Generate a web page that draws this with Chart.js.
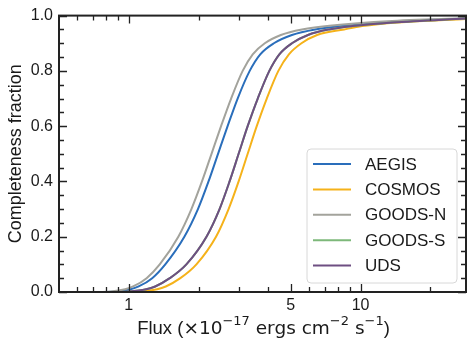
<!DOCTYPE html>
<html>
<head>
<meta charset="utf-8">
<script src="https://cdn.jsdelivr.net/npm/chart.js@4"></script>
<style>
  html, body { margin: 0; padding: 0; background: #fff; }
  #wrap { width: 474px; height: 347px; }
</style>
</head>
<body>
<div id="wrap"><canvas id="completenessChart"></canvas></div>
<script>
// series (flux in 1e-17 ergs cm^-2 s^-1, completeness fraction)
const seriesNames = ['AEGIS', 'COSMOS', 'GOODS-N', 'GOODS-S', 'UDS'];
const seriesColors = ['#2a6ebb', '#f5b21a', '#a3a39c', '#7db87a', '#6e4f82'];

const aegisFlux = [0.72, 0.881, 1.018, 1.103, 1.262, 1.437, 1.737, 1.988, 2.208, 2.427, 2.669, 2.949, 3.324, 3.692, 4.225, 5.056, 6.364, 8.33, 15.16, 29.0];
const aegisFrac = [0.000, 0.002, 0.010, 0.020, 0.050, 0.100, 0.200, 0.300, 0.400, 0.500, 0.600, 0.700, 0.800, 0.860, 0.900, 0.930, 0.950, 0.962, 0.980, 0.990];

const cosmosFlux = [0.85, 1.108, 1.326, 1.444, 1.669, 1.958, 2.379, 2.695, 2.978, 3.258, 3.565, 3.939, 4.419, 4.907, 5.559, 6.491, 8.497, 10.17, 14.42, 29.0];
const cosmosFrac = [0.000, 0.002, 0.010, 0.020, 0.050, 0.100, 0.200, 0.300, 0.400, 0.500, 0.600, 0.700, 0.800, 0.860, 0.900, 0.930, 0.950, 0.962, 0.975, 0.988];

const goodsNFlux = [0.70, 0.838, 0.964, 1.044, 1.194, 1.360, 1.636, 1.863, 2.069, 2.275, 2.501, 2.764, 3.100, 3.425, 3.862, 4.530, 5.587, 7.925, 13.06, 29.0];
const goodsNFrac = [0.000, 0.002, 0.010, 0.020, 0.050, 0.100, 0.200, 0.300, 0.400, 0.500, 0.600, 0.700, 0.800, 0.860, 0.900, 0.930, 0.950, 0.966, 0.980, 0.991];

// GOODS-S is not visible in the reference: it sits underneath UDS
const goodsSFlux = [0.80, 1.003, 1.189, 1.300, 1.503, 1.772, 2.164, 2.464, 2.722, 2.978, 3.258, 3.601, 4.040, 4.463, 5.056, 5.932, 7.315, 9.205, 13.73, 29.0];
const goodsSFrac = [0.000, 0.002, 0.010, 0.020, 0.050, 0.100, 0.200, 0.300, 0.400, 0.500, 0.600, 0.700, 0.800, 0.860, 0.900, 0.930, 0.950, 0.962, 0.975, 0.990];

const udsFlux = [0.80, 1.003, 1.189, 1.300, 1.503, 1.772, 2.164, 2.464, 2.722, 2.978, 3.258, 3.601, 4.040, 4.463, 5.056, 5.932, 7.315, 9.205, 13.73, 29.0];
const udsFrac = [0.000, 0.002, 0.010, 0.020, 0.050, 0.100, 0.200, 0.300, 0.400, 0.500, 0.600, 0.700, 0.800, 0.860, 0.900, 0.930, 0.950, 0.962, 0.975, 0.990];

const xTickLabels = [1, 5, 10];
const xMinorTicks = [0.6, 0.7, 0.8, 0.9, 2, 3, 4, 6, 7, 8, 9, 20];
const yTickLabels = [0, 0.2, 0.4, 0.6, 0.8, 1.0];
const yMinorTicks = [0.05, 0.1, 0.15, 0.25, 0.3, 0.35, 0.45, 0.5, 0.55, 0.65, 0.7, 0.75, 0.85, 0.9, 0.95];

const fluxes = [aegisFlux, cosmosFlux, goodsNFlux, goodsSFlux, udsFlux];
const fracs = [aegisFrac, cosmosFrac, goodsNFrac, goodsSFrac, udsFrac];

const FONT = '"Liberation Sans", Arial, sans-serif';
const MATH = '"DejaVu Sans", sans-serif';

const datasets = seriesNames.map((name, i) => ({
    label: name,
    data: fluxes[i].map((x, j) => ({ x: x, y: fracs[i][j] })),
    borderColor: seriesColors[i],
    backgroundColor: seriesColors[i],
    borderWidth: 2,
    pointRadius: 0,
    cubicInterpolationMode: 'monotone',
    order: seriesNames.length - 1 - i   // later series on top, like matplotlib
}));

// frame, inward ticks, titles and the legend box
const decorPlugin = {
    id: 'decor',
    afterDraw(chart) {
        const ctx = chart.ctx;
        const area = chart.chartArea;
        const xs = chart.scales.x;
        const ys = chart.scales.y;
        ctx.save();
        ctx.strokeStyle = '#222';

        ctx.lineWidth = 1.3;
        const tick = (vals, len, isX) => {
            vals.forEach(v => {
                ctx.beginPath();
                if (isX) {
                    const px = Math.round(xs.getPixelForValue(v)) + 0.5;
                    ctx.moveTo(px, area.bottom); ctx.lineTo(px, area.bottom - len);
                    ctx.moveTo(px, area.top); ctx.lineTo(px, area.top + len);
                } else {
                    const py = Math.round(ys.getPixelForValue(v)) + 0.5;
                    ctx.moveTo(area.left, py); ctx.lineTo(area.left + len, py);
                    ctx.moveTo(area.right, py); ctx.lineTo(area.right - len, py);
                }
                ctx.stroke();
            });
        };
        tick(xTickLabels, 8, true);
        tick(xMinorTicks, 5, true);
        tick(yTickLabels, 8, false);
        tick(yMinorTicks, 5, false);

        ctx.lineWidth = 2;
        ctx.strokeRect(area.left, area.top, area.right - area.left, area.bottom - area.top);

        // legend
        const lx = 307, ly = 149, lw = 150, lh = 134;
        ctx.beginPath();
        ctx.roundRect(lx, ly, lw, lh, 4);
        ctx.fillStyle = 'rgba(255,255,255,0.85)';
        ctx.fill();
        ctx.lineWidth = 1;
        ctx.strokeStyle = '#d8d8d8';
        ctx.stroke();
        ctx.font = '17px ' + FONT;
        ctx.textBaseline = 'middle';
        ctx.textAlign = 'left';
        chart.data.datasets.forEach((ds, i) => {
            const yy = 164 + i * 25.4;
            ctx.strokeStyle = ds.borderColor;
            ctx.lineWidth = 2;
            ctx.beginPath();
            ctx.moveTo(313, yy); ctx.lineTo(351, yy);
            ctx.stroke();
            ctx.fillStyle = '#1a1a1a';
            ctx.fillText(ds.label, 365, yy + 1);
        });

        // y title
        ctx.fillStyle = '#1a1a1a';
        ctx.save();
        ctx.translate(21, (area.top + area.bottom) / 2);
        ctx.rotate(-Math.PI / 2);
        ctx.textAlign = 'center';
        ctx.textBaseline = 'alphabetic';
        ctx.font = '18px ' + FONT;
        ctx.fillText('Completeness fraction', 0, 0);
        ctx.restore();

        // x title with superscripts (text part in sans, math part in DejaVu like mathtext)
        const parts = [
            ['Flux (', FONT, 18.5, 0], ['\u00d710', MATH, 18.5, 0], ['\u221217', MATH, 13, 1],
            [' ergs cm', MATH, 18.5, 0], ['\u22122', MATH, 13, 1], [' s', MATH, 18.5, 0],
            ['\u22121', MATH, 13, 1], [')', FONT, 18.5, 0]
        ];
        let total = 0;
        parts.forEach(p => { ctx.font = p[2] + 'px ' + p[1]; total += ctx.measureText(p[0]).width; });
        let cx = 263.5 - total / 2;
        const base = 334;
        ctx.textAlign = 'left';
        ctx.textBaseline = 'alphabetic';
        parts.forEach(p => {
            ctx.font = p[2] + 'px ' + p[1];
            ctx.fillText(p[0], cx, p[3] ? base - 9 : base);
            cx += ctx.measureText(p[0]).width;
        });
        ctx.restore();
    }
};

new Chart(document.getElementById('completenessChart'), {
    type: 'line',
    data: { datasets: datasets },
    options: {
        responsive: true,
        maintainAspectRatio: false,
        animation: false,
        layout: { padding: { left: 0, top: 14, right: 8, bottom: 0 } },
        plugins: {
            legend: { display: false },
            tooltip: { enabled: false }
        },
        scales: {
            x: {
                type: 'logarithmic',
                min: 0.5,
                max: 28.5,
                grid: { display: false, drawTicks: false },
                border: { display: false },
                afterBuildTicks: scale => { scale.ticks = xTickLabels.map(v => ({ value: v })); },
                afterFit: scale => { scale.height = 55; },
                ticks: {
                    autoSkip: false,
                    maxRotation: 0,
                    padding: 4,
                    color: '#1a1a1a',
                    font: { family: FONT, size: 16 },
                    callback: v => String(v)
                }
            },
            y: {
                min: 0,
                max: 1,
                grid: { display: false, drawTicks: false },
                border: { display: false },
                afterBuildTicks: scale => { scale.ticks = yTickLabels.map(v => ({ value: v })); },
                afterFit: scale => { scale.width = 59; },
                ticks: {
                    padding: 6,
                    color: '#1a1a1a',
                    font: { family: FONT, size: 16 },
                    callback: v => v.toFixed(1)
                }
            }
        }
    },
    plugins: [decorPlugin]
});
</script>
</body>
</html>
